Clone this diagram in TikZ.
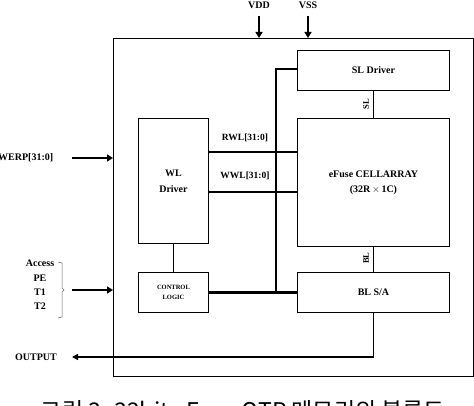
\documentclass[tikz,border=0pt]{standalone}
\usepackage{fontspec}
\setmainfont{Liberation Serif}
\newfontfamily\krfont{Noto Sans CJK KR}
\usetikzlibrary{arrows.meta}
\begin{document}
\begin{tikzpicture}[x=1pt,y=-1pt,
  blk/.style={draw, line width=0.9pt, inner sep=0pt, anchor=north west, align=center,
    font=\bfseries\fontsize{10}{15}\selectfont},
  lbl/.style={inner sep=0pt, font=\bfseries\fontsize{10}{14}\selectfont, align=center},
  bus/.style={line width=2.6pt},
  wire/.style={line width=1.4pt},
  thinw/.style={line width=1pt},
  arr/.style={line width=2.4pt, -{Triangle[length=6pt,width=7pt]}},
  oarr/.style={line width=1.6pt, -{Triangle[length=6pt,width=6pt]}}]
\useasboundingbox (0,0) rectangle (474,406);
\begin{scope}
\clip (0,0) rectangle (474,406);
% outer box
\node[draw, line width=0.9pt, anchor=north west, minimum width=360pt, minimum height=338pt, inner sep=0pt] (outer) at (113,38) {};
% blocks
\node[blk, minimum width=152pt, minimum height=40pt] (sld) at (297,50) {SL Driver};
\node[blk, minimum width=152pt, minimum height=128pt] (cell) at (297,118) {eFuse CELLARRAY\\(32R\,$\times$\,1C)};
\node[blk, minimum width=152pt, minimum height=40pt] (bls) at (297,272) {BL S/A};
\node[blk, minimum width=70pt, minimum height=125pt, font=\bfseries\fontsize{10}{16}\selectfont] (wld) at (138,118) {WL\\Driver};
\node[blk, minimum width=70pt, minimum height=40pt, font=\bfseries\fontsize{6.5}{10}\selectfont] (cl) at (138,272) {CONTROL\\LOGIC};
% power labels
\node[lbl] (vdd) at (259,5) {VDD};
\node[lbl] (vss) at (308,5) {VSS};
\coordinate (vddS) at (259,16);
\coordinate (vssS) at (308,16);
\draw[arr] (vddS) -- (vddS |- outer.north);
\draw[arr] (vssS) -- (vssS |- outer.north);
% SL / BL
\draw[thinw] (sld.south) -- (cell.north);
\draw[thinw] (cell.south) -- (bls.north);
\node[lbl, rotate=90, font=\bfseries\fontsize{8.5}{10}\selectfont] (sllab) at (366,104) {SL};
\node[lbl, rotate=90, font=\bfseries\fontsize{8.5}{10}\selectfont] (bllab) at (366,258) {BL};
% word lines
\coordinate (rwly) at (0,152);
\coordinate (wwly) at (0,192);
\draw[bus] (wld.east |- rwly) -- (cell.west |- rwly);
\draw[bus] (wld.east |- wwly) -- (cell.west |- wwly);
\node[lbl, font=\bfseries\fontsize{9.5}{11}\selectfont] (rwl) at (245,138) {RWL[31:0]};
\node[lbl, font=\bfseries\fontsize{9.5}{11}\selectfont] (wwl) at (245,176) {WWL[31:0]};
% control connections
\draw[wire] (wld.south) -- (cl.north);
\coordinate (tapT) at (276,69);
\coordinate (tapB) at (276,292);
\draw[wire] (sld.west |- tapT) -- (tapT) -- (tapB);
\draw[bus] (cl.east) -- (bls.west);
% inputs
\node[lbl, anchor=west] (werp) at (-2,158) {WERP[31:0]};
\coordinate (werpS) at (72,158);
\draw[arr] (werpS) -- (werpS -| outer.west);
\node[lbl, font=\bfseries\fontsize{10}{14.3}\selectfont] (acc) at (40,285) {Access\\PE\\T1\\T2};
\draw[line width=0.5pt, black!60] (58,262) -- (62,263) -- (62,288) -- (64,290) -- (62,292) -- (62,317) -- (58,318);
\coordinate (accS) at (72,290);
\draw[arr] (accS) -- (accS -| outer.west);
% output
\node[lbl, anchor=west] (outp) at (15,357) {OUTPUT};
\coordinate (outE) at (72,357);
\draw[oarr] (bls.south) |- (outE);
% caption (cut off at the bottom, as in the reference)
\node[inner sep=0pt, anchor=base, font=\krfont\fontsize{23}{26}\selectfont] (cap) at (243,419) {그림 3. 32bit eFuse OTP 메모리의 블록도};
\end{scope}
\end{tikzpicture}
\end{document}
